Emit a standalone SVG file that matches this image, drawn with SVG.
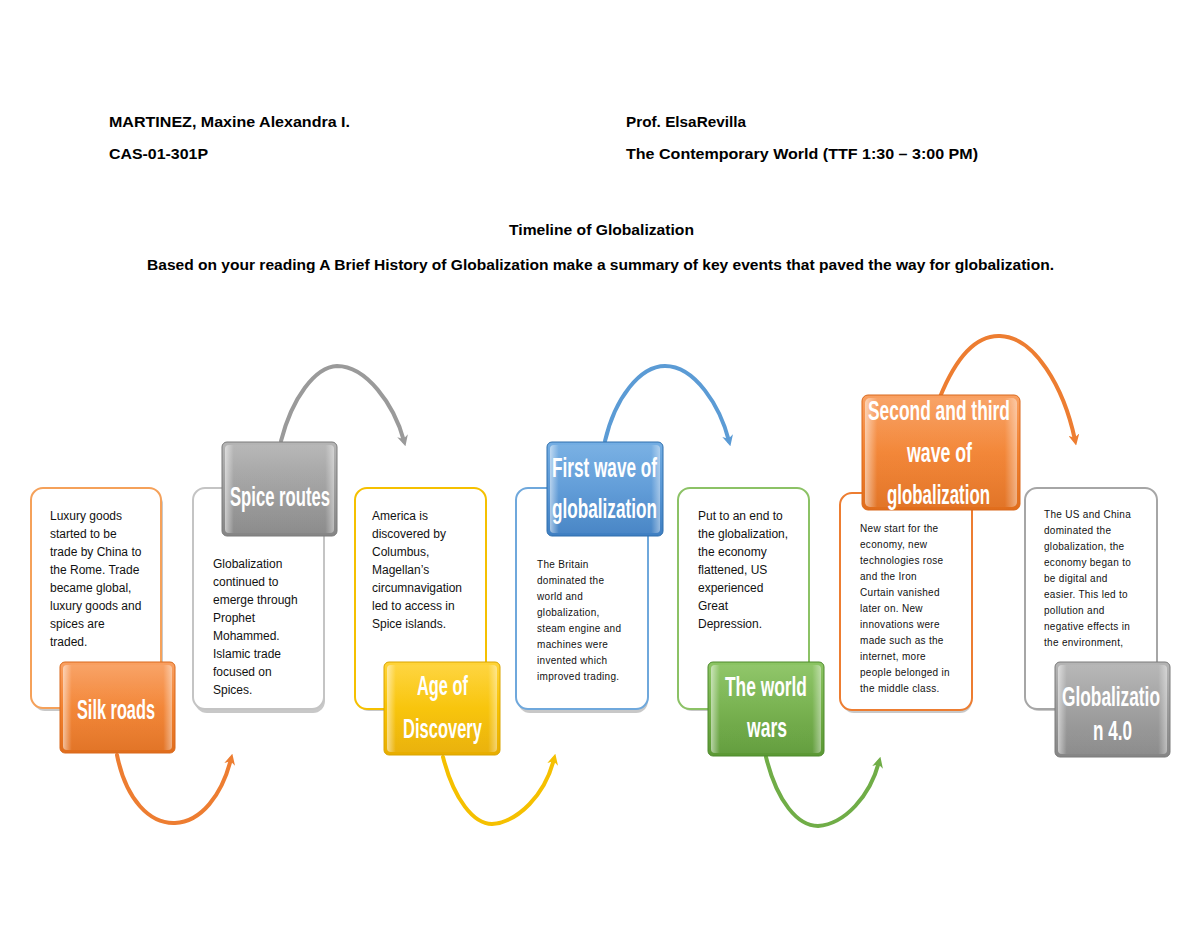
<svg xmlns="http://www.w3.org/2000/svg" width="1200" height="927" viewBox="0 0 1200 927">
<defs>
<style>
.hdr{font-family:"Liberation Sans",Arial,sans-serif;font-weight:bold;font-size:15px;fill:#000}
.body{font-family:"Liberation Sans",Arial,sans-serif;font-size:12px;fill:#111}
.small{font-family:"Liberation Sans",Arial,sans-serif;font-size:10px;fill:#111;letter-spacing:0.3px}
.lbl{font-family:"Liberation Sans",Arial,sans-serif;font-weight:bold;font-size:27px;fill:#fff}
.tbox{fill:#fff;stroke-width:2}
.shadow{fill:#c8c8c8}
.conn{fill:none;stroke-width:4;stroke-linecap:round}
</style>
<linearGradient id="gOr" x1="0" y1="0" x2="0" y2="1"><stop offset="0" stop-color="#f9a062"/><stop offset="0.5" stop-color="#f2812f"/><stop offset="1" stop-color="#e06d1c"/></linearGradient>
<linearGradient id="gGr" x1="0" y1="0" x2="0" y2="1"><stop offset="0" stop-color="#b5b5b5"/><stop offset="0.5" stop-color="#9c9c9c"/><stop offset="1" stop-color="#858585"/></linearGradient>
<linearGradient id="gYe" x1="0" y1="0" x2="0" y2="1"><stop offset="0" stop-color="#ffd43a"/><stop offset="0.5" stop-color="#f8c200"/><stop offset="1" stop-color="#e8ad00"/></linearGradient>
<linearGradient id="gBl" x1="0" y1="0" x2="0" y2="1"><stop offset="0" stop-color="#74aee3"/><stop offset="0.5" stop-color="#5a98d6"/><stop offset="1" stop-color="#3f7fc2"/></linearGradient>
<linearGradient id="gGn" x1="0" y1="0" x2="0" y2="1"><stop offset="0" stop-color="#8cc564"/><stop offset="0.5" stop-color="#72ae48"/><stop offset="1" stop-color="#5b9834"/></linearGradient>
<linearGradient id="hl" x1="0" y1="0" x2="1" y2="0"><stop offset="0" stop-color="#fff" stop-opacity="0.55"/><stop offset="0.08" stop-color="#fff" stop-opacity="0.05"/><stop offset="0.92" stop-color="#fff" stop-opacity="0.05"/><stop offset="1" stop-color="#fff" stop-opacity="0.45"/></linearGradient>
<marker id="mOr" viewBox="0 0 10 10" refX="5" refY="5" markerWidth="11" markerHeight="11" markerUnits="userSpaceOnUse" orient="auto"><path d="M0,0 L10,5 L0,10 L3,5 Z" fill="#ed7d31"/></marker>
<marker id="mGr" viewBox="0 0 10 10" refX="5" refY="5" markerWidth="11" markerHeight="11" markerUnits="userSpaceOnUse" orient="auto"><path d="M0,0 L10,5 L0,10 L3,5 Z" fill="#9a9a9a"/></marker>
<marker id="mYe" viewBox="0 0 10 10" refX="5" refY="5" markerWidth="11" markerHeight="11" markerUnits="userSpaceOnUse" orient="auto"><path d="M0,0 L10,5 L0,10 L3,5 Z" fill="#f5c000"/></marker>
<marker id="mBl" viewBox="0 0 10 10" refX="5" refY="5" markerWidth="11" markerHeight="11" markerUnits="userSpaceOnUse" orient="auto"><path d="M0,0 L10,5 L0,10 L3,5 Z" fill="#5b9bd5"/></marker>
<marker id="mGn" viewBox="0 0 10 10" refX="5" refY="5" markerWidth="11" markerHeight="11" markerUnits="userSpaceOnUse" orient="auto"><path d="M0,0 L10,5 L0,10 L3,5 Z" fill="#70ad47"/></marker>
</defs>
<rect width="1200" height="927" fill="#fff"/>

<g id="header">
<text class="hdr" x="109" y="127" textLength="241" lengthAdjust="spacingAndGlyphs">MARTINEZ, Maxine Alexandra I.</text>
<text class="hdr" x="626" y="127" textLength="120" lengthAdjust="spacingAndGlyphs">Prof. ElsaRevilla</text>
<text class="hdr" x="109" y="159" textLength="99" lengthAdjust="spacingAndGlyphs">CAS-01-301P</text>
<text class="hdr" x="626" y="159" textLength="352" lengthAdjust="spacingAndGlyphs">The Contemporary World (TTF 1:30 – 3:00 PM)</text>
<text class="hdr" x="509" y="235" textLength="185" lengthAdjust="spacingAndGlyphs">Timeline of Globalization</text>
<text class="hdr" x="147" y="270" textLength="907" lengthAdjust="spacingAndGlyphs">Based on your reading A Brief History of Globalization make a summary of key events that paved the way for globalization.</text>
</g>

<g id="connectors">
<path class="conn" stroke="#ed7d31" marker-end="url(#mOr)" d="M117,755 C126,800 150,824 175,823 C201,822 222,795 231,759"/>
<path class="conn" stroke="#9a9a9a" marker-end="url(#mGr)" d="M281,441 C292,398 315,367 337,366 C366,366 394,404 404,441"/>
<path class="conn" stroke="#f5c000" marker-end="url(#mYe)" d="M443,757 C454,800 474,824 492,824 C518,822 545,795 554,759"/>
<path class="conn" stroke="#5b9bd5" marker-end="url(#mBl)" d="M605,441 C615,398 640,366 665,366 C695,366 720,406 729,441"/>
<path class="conn" stroke="#70ad47" marker-end="url(#mGn)" d="M766,757 C777,802 798,826 818,826 C845,824 870,796 879,762"/>
<path class="conn" stroke="#ed7d31" marker-end="url(#mOr)" d="M940,397 C955,360 975,335 1000,336 C1035,337 1064,388 1075,440"/>
</g>

<g id="node-silk-roads">
<rect class="shadow" x="33" y="492" width="130" height="219" rx="12"/>
<rect class="tbox" x="31" y="488" width="130" height="220" rx="12" stroke="#f5a15a"/>
<text class="body" x="50" y="520">Luxury goods</text>
<text class="body" x="50" y="538">started to be</text>
<text class="body" x="50" y="556">trade by China to</text>
<text class="body" x="50" y="574">the Rome. Trade</text>
<text class="body" x="50" y="592">became global,</text>
<text class="body" x="50" y="610">luxury goods and</text>
<text class="body" x="50" y="628">spices are</text>
<text class="body" x="50" y="646">traded.</text>
<rect x="60" y="662" width="115" height="91" rx="5" fill="url(#gOr)" stroke="#d9691c"/>
<rect x="63" y="665" width="109" height="85" rx="4" fill="url(#hl)"/>
<text class="lbl" transform="scale(0.65,1)" x="118.46" y="719" textLength="120" lengthAdjust="spacingAndGlyphs">Silk roads</text>
</g>

<g id="node-spice-routes">
<rect class="shadow" x="195" y="492" width="130" height="221" rx="12"/>
<rect class="tbox" x="193" y="488" width="131" height="221" rx="12" stroke="#c4c4c4"/>
<text class="body" x="213" y="568">Globalization</text>
<text class="body" x="213" y="586">continued to</text>
<text class="body" x="213" y="604">emerge through</text>
<text class="body" x="213" y="622">Prophet</text>
<text class="body" x="213" y="640">Mohammed.</text>
<text class="body" x="213" y="658">Islamic trade</text>
<text class="body" x="213" y="676">focused on</text>
<text class="body" x="213" y="694">Spices.</text>
<rect x="222" y="442" width="115" height="94" rx="5" fill="url(#gGr)" stroke="#7a7a7a"/>
<rect x="225" y="445" width="109" height="88" rx="4" fill="url(#hl)"/>
<text class="lbl" transform="scale(0.65,1)" x="353.85" y="506" textLength="153.85" lengthAdjust="spacingAndGlyphs">Spice routes</text>
</g>

<g id="node-age-of-discovery">
<rect class="shadow" x="357" y="492" width="130" height="219" rx="12"/>
<rect class="tbox" x="355" y="488" width="131" height="221" rx="12" stroke="#f5c000"/>
<text class="body" x="372" y="520">America is</text>
<text class="body" x="372" y="538">discovered by</text>
<text class="body" x="372" y="556">Columbus,</text>
<text class="body" x="372" y="574">Magellan’s</text>
<text class="body" x="372" y="592">circumnavigation</text>
<text class="body" x="372" y="610">led to access in</text>
<text class="body" x="372" y="628">Spice islands.</text>
<rect x="384" y="662" width="116" height="93" rx="5" fill="url(#gYe)" stroke="#d9a400"/>
<rect x="387" y="665" width="110" height="87" rx="4" fill="url(#hl)"/>
<text class="lbl" transform="scale(0.65,1)" x="641.54" y="695" textLength="78.46" lengthAdjust="spacingAndGlyphs">Age of</text>
<text class="lbl" transform="scale(0.65,1)" x="620" y="738" textLength="121.54" lengthAdjust="spacingAndGlyphs">Discovery</text>
</g>

<g id="node-first-wave">
<rect class="shadow" x="518" y="492" width="130" height="221" rx="12"/>
<rect class="tbox" x="516" y="488" width="132" height="221" rx="12" stroke="#6fa8dc"/>
<text class="small" x="537" y="568">The Britain</text>
<text class="small" x="537" y="584">dominated the</text>
<text class="small" x="537" y="600">world and</text>
<text class="small" x="537" y="616">globalization,</text>
<text class="small" x="537" y="632">steam engine and</text>
<text class="small" x="537" y="648">machines were</text>
<text class="small" x="537" y="664">invented which</text>
<text class="small" x="537" y="680">improved trading.</text>
<rect x="547" y="442" width="116" height="94" rx="5" fill="url(#gBl)" stroke="#2f6fad"/>
<rect x="550" y="445" width="110" height="88" rx="4" fill="url(#hl)"/>
<text class="lbl" transform="scale(0.65,1)" x="849.23" y="477" textLength="161.54" lengthAdjust="spacingAndGlyphs">First wave of</text>
<text class="lbl" transform="scale(0.65,1)" x="849.23" y="518" textLength="161.54" lengthAdjust="spacingAndGlyphs">globalization</text>
</g>

<g id="node-world-wars">
<rect class="shadow" x="680" y="492" width="130" height="219" rx="12"/>
<rect class="tbox" x="678" y="488" width="131" height="221" rx="12" stroke="#8cc266"/>
<text class="body" x="698" y="520">Put to an end to</text>
<text class="body" x="698" y="538">the globalization,</text>
<text class="body" x="698" y="556">the economy</text>
<text class="body" x="698" y="574">flattened, US</text>
<text class="body" x="698" y="592">experienced</text>
<text class="body" x="698" y="610">Great</text>
<text class="body" x="698" y="628">Depression.</text>
<rect x="708" y="662" width="116" height="94" rx="5" fill="url(#gGn)" stroke="#4e8a2c"/>
<rect x="711" y="665" width="110" height="88" rx="4" fill="url(#hl)"/>
<text class="lbl" transform="scale(0.65,1)" x="1115.38" y="696" textLength="126.15" lengthAdjust="spacingAndGlyphs">The world</text>
<text class="lbl" transform="scale(0.65,1)" x="1149.23" y="737" textLength="61.54" lengthAdjust="spacingAndGlyphs">wars</text>
</g>

<g id="node-second-third-wave">
<rect class="shadow" x="842" y="497" width="130" height="216" rx="12"/>
<rect class="tbox" x="840" y="493" width="132" height="217" rx="12" stroke="#ed7d31"/>
<text class="small" x="860" y="532">New start for the</text>
<text class="small" x="860" y="548">economy, new</text>
<text class="small" x="860" y="564">technologies rose</text>
<text class="small" x="860" y="580">and the Iron</text>
<text class="small" x="860" y="596">Curtain vanished</text>
<text class="small" x="860" y="612">later on. New</text>
<text class="small" x="860" y="628">innovations were</text>
<text class="small" x="860" y="644">made such as the</text>
<text class="small" x="860" y="660">internet, more</text>
<text class="small" x="860" y="676">people belonged in</text>
<text class="small" x="860" y="692">the middle class.</text>
<rect x="862" y="395" width="158" height="115" rx="6" fill="url(#gOr)" stroke="#d9691c"/>
<rect x="865" y="398" width="152" height="109" rx="5" fill="url(#hl)"/>
<text class="lbl" transform="scale(0.65,1)" x="1335.38" y="420" textLength="218.46" lengthAdjust="spacingAndGlyphs">Second and third</text>
<text class="lbl" transform="scale(0.65,1)" x="1395.38" y="462" textLength="100" lengthAdjust="spacingAndGlyphs">wave of</text>
<text class="lbl" transform="scale(0.65,1)" x="1364.62" y="504" textLength="158.46" lengthAdjust="spacingAndGlyphs">globalization</text>
</g>

<g id="node-globalization-4">
<rect class="shadow" x="1027" y="492" width="130" height="219" rx="12"/>
<rect class="tbox" x="1025" y="488" width="132" height="221" rx="12" stroke="#a6a6a6"/>
<text class="small" x="1044" y="518">The US and China</text>
<text class="small" x="1044" y="534">dominated the</text>
<text class="small" x="1044" y="550">globalization, the</text>
<text class="small" x="1044" y="566">economy began to</text>
<text class="small" x="1044" y="582">be digital and</text>
<text class="small" x="1044" y="598">easier. This led to</text>
<text class="small" x="1044" y="614">pollution and</text>
<text class="small" x="1044" y="630">negative effects in</text>
<text class="small" x="1044" y="646">the environment,</text>
<rect x="1055" y="662" width="115" height="95" rx="5" fill="url(#gGr)" stroke="#7a7a7a"/>
<rect x="1058" y="665" width="109" height="89" rx="4" fill="url(#hl)"/>
<text class="lbl" transform="scale(0.65,1)" x="1633.85" y="706" textLength="150.77" lengthAdjust="spacingAndGlyphs">Globalizatio</text>
<text class="lbl" transform="scale(0.65,1)" x="1681.54" y="740" textLength="60" lengthAdjust="spacingAndGlyphs">n 4.0</text>
</g>
</svg>
